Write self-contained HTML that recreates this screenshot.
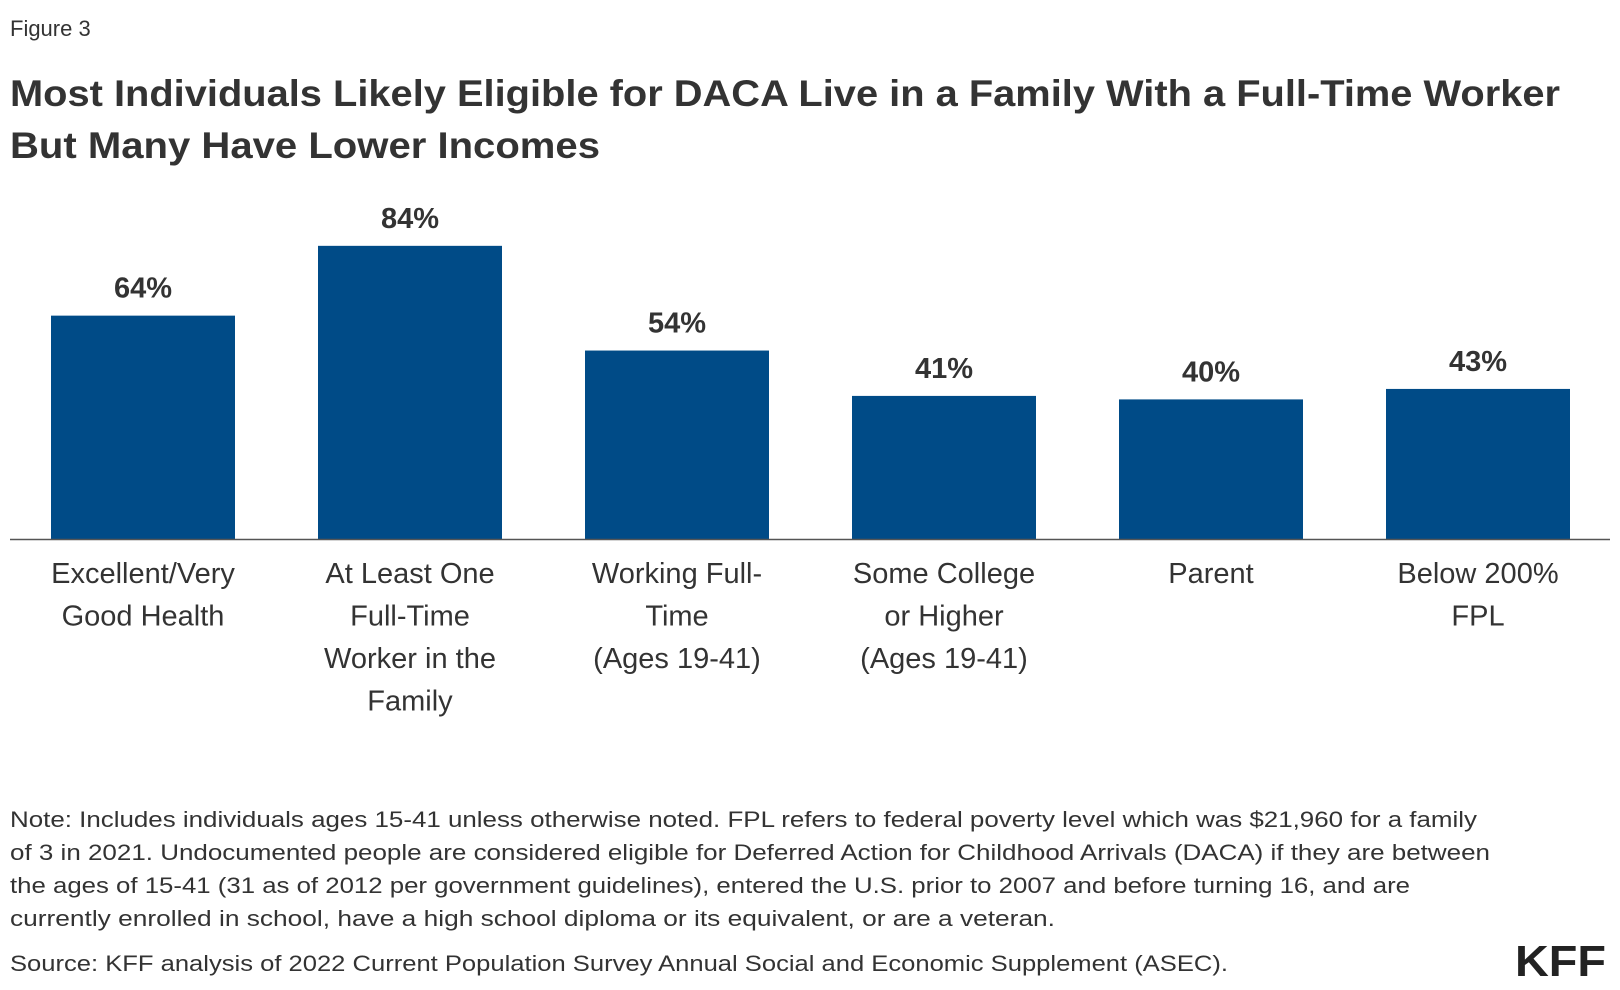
<!DOCTYPE html>
<html><head><meta charset="utf-8"><style>
html,body{margin:0;padding:0;background:#fff}
svg{display:block;font-family:"Liberation Sans",sans-serif}
</style></head><body>
<svg id="chart" width="1620" height="990" viewBox="0 0 1620 990" xmlns="http://www.w3.org/2000/svg">
<text x="10" y="36" font-size="22" fill="#333">Figure 3</text>
<text font-size="37" font-weight="bold" fill="#333">
<tspan x="10" y="106" textLength="1550" lengthAdjust="spacingAndGlyphs">Most Individuals Likely Eligible for DACA Live in a Family With a Full-Time Worker</tspan>
<tspan x="10" y="158" textLength="590" lengthAdjust="spacingAndGlyphs">But Many Have Lower Incomes</tspan>
</text>
<g id="bars"></g>
<line x1="10" x2="1610" y1="539.5" y2="539.5" stroke="#555" stroke-width="1.5"/>
<g id="labels"></g>
<g font-size="22" fill="#333">
<text x="10" y="827" textLength="1467" lengthAdjust="spacingAndGlyphs">Note: Includes individuals ages 15-41 unless otherwise noted. FPL refers to federal poverty level which was $21,960 for a family</text>
<text x="10" y="860" textLength="1480" lengthAdjust="spacingAndGlyphs">of 3 in 2021. Undocumented people are considered eligible for Deferred Action for Childhood Arrivals (DACA) if they are between</text>
<text x="10" y="893" textLength="1400" lengthAdjust="spacingAndGlyphs">the ages of 15-41 (31 as of 2012 per government guidelines), entered the U.S. prior to 2007 and before turning 16, and are</text>
<text x="10" y="926" textLength="1045" lengthAdjust="spacingAndGlyphs">currently enrolled in school, have a high school diploma or its equivalent, or are a veteran.</text>
</g>
<text x="10" y="971" font-size="22" fill="#333" textLength="1218" lengthAdjust="spacingAndGlyphs">Source: KFF analysis of 2022 Current Population Survey Annual Social and Economic Supplement (ASEC).</text>
<text x="1515" y="976" font-size="44" font-weight="bold" fill="#222" textLength="91" lengthAdjust="spacingAndGlyphs">KFF</text>
</svg>
<script>
const categories = [
  ["Excellent/Very","Good Health"],
  ["At Least One","Full-Time","Worker in the","Family"],
  ["Working Full-","Time","(Ages 19-41)"],
  ["Some College","or Higher","(Ages 19-41)"],
  ["Parent"],
  ["Below 200%","FPL"]
];
const values = [64, 84, 54, 41, 40, 43];
const valueLabels = ["64%","84%","54%","41%","40%","43%"];

const NS = "http://www.w3.org/2000/svg";
const baseY = 539, pxPerPct = 3.49, x0 = 51, pitch = 267, bw = 184;
function yScale(v){ return baseY - v * pxPerPct; }
function xScale(i){ return x0 + i * pitch; }
const bars = document.getElementById('bars');
const labels = document.getElementById('labels');
values.forEach((v, i) => {
  const r = document.createElementNS(NS, 'rect');
  
  
  r.setAttribute('x', xScale(i));
  r.setAttribute('y', yScale(v));
  r.setAttribute('width', bw);
  r.setAttribute('height', baseY - yScale(v));
  r.setAttribute('fill', '#004b87');
  bars.appendChild(r);
  const t = document.createElementNS(NS, 'text');
  
  
  t.setAttribute('x', xScale(i) + bw / 2);
  t.setAttribute('y', yScale(v) - 18);
  t.setAttribute('text-anchor', 'middle');
  t.setAttribute('font-size', '29');
  t.setAttribute('font-weight', 'bold');
  t.setAttribute('fill', '#333');
  t.textContent = valueLabels[i];
  labels.appendChild(t);
  const c = document.createElementNS(NS, 'text');
  
  
  c.setAttribute('text-anchor', 'middle');
  c.setAttribute('font-size', '29');
  c.setAttribute('fill', '#333');
  categories[i].forEach((line, j) => {
    const s = document.createElementNS(NS, 'tspan');
    s.setAttribute('x', xScale(i) + bw / 2);
    s.setAttribute('y', 583 + j * 42.5);
    s.textContent = line;
    c.appendChild(s);
  });
  labels.appendChild(c);
});
</script>
</body></html>
